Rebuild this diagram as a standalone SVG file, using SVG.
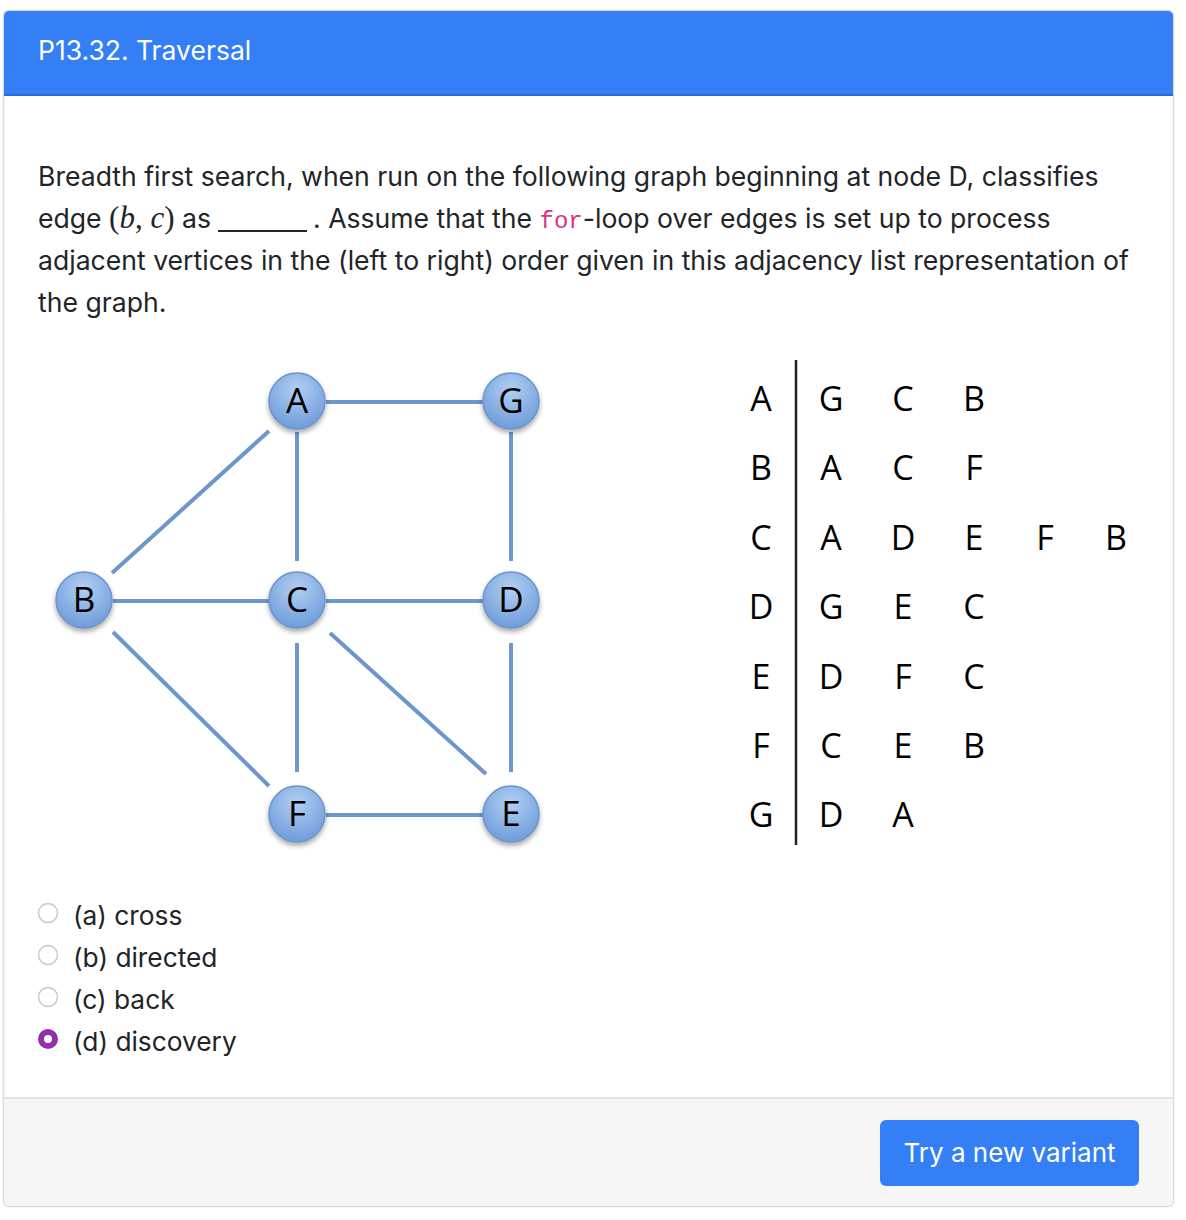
<svg xmlns="http://www.w3.org/2000/svg" width="1186" height="1220" viewBox="0 0 1186 1220">
<style>
.t{font-family:Inter,"Noto Sans","Liberation Sans",sans-serif;fill:#212529}
.body{font-size:26.6px}
.opt{font-size:26.3px}
.edge{stroke:#6d97cb;stroke-width:4;fill:none}
.nl{font-family:"Open Sans","Liberation Sans",sans-serif;font-size:35px;fill:#000;text-anchor:middle}
.adj{font-family:"Open Sans","Liberation Sans",sans-serif;font-size:34px;fill:#000;text-anchor:middle}
.radio{fill:#fff;stroke:#c9c9c9;stroke-width:1.5}
</style>
<defs>
<radialGradient id="ng" cx="0.5" cy="0.3" r="0.75">
<stop offset="0" stop-color="#b3cff2"/>
<stop offset="0.6" stop-color="#86aee3"/>
<stop offset="1" stop-color="#6a98d6"/>
</radialGradient>
<filter id="sh" x="-30%" y="-30%" width="160%" height="170%">
<feDropShadow dx="0" dy="3" stdDeviation="2.5" flood-color="#000" flood-opacity="0.35"/>
</filter>
</defs>
<rect x="0" y="0" width="1186" height="1220" fill="#fff"/>
<rect x="3.5" y="10.5" width="1170" height="1196" rx="5" fill="#fff" stroke="#dcdcdc" stroke-width="1.5"/>
<path d="M4 95 V16 a5 5 0 0 1 5 -5 H1168 a5 5 0 0 1 5 5 V95 Z" fill="#347ff6"/>
<rect x="4" y="94" width="1169" height="2" fill="#2a6bd6"/>
<text x="38" y="60" font-family="Inter,'Noto Sans','Liberation Sans',sans-serif" font-size="26.5" fill="#fff">P13.32. Traversal</text>
<path d="M4 1098 H1173 V1201 a5 5 0 0 1 -5 5 H9 a5 5 0 0 1 -5 -5 Z" fill="#f6f6f6"/>
<line x1="4" y1="1098" x2="1173" y2="1098" stroke="#dcdcdc" stroke-width="1.5"/>

<text class="t body" x="38" y="186">Breadth first search, when run on the following graph beginning at node D, classifies</text>
<text class="t body" x="38" y="228">edge <tspan font-family="'Liberation Serif',serif" font-size="31">(<tspan font-style="italic">b</tspan>, <tspan font-style="italic">c</tspan>)</tspan> as</text>
<line x1="218" y1="231" x2="307" y2="231" stroke="#212529" stroke-width="2"/>
<text class="t body" x="313" y="228">. Assume that the <tspan font-family="'Liberation Mono',monospace" font-size="24" fill="#d63384">for</tspan>-loop over edges is set up to process</text>
<text class="t body" x="38" y="270">adjacent vertices in the (left to right) order given in this adjacency list representation of</text>
<text class="t body" x="38" y="312">the graph.</text>

<g id="connectors">
<line class="edge" x1="326" y1="402" x2="484" y2="402"/>
<line class="edge" x1="297" y1="432" x2="297" y2="561"/>
<line class="edge" x1="511" y1="432" x2="511" y2="561"/>
<line class="edge" x1="269" y1="431" x2="112" y2="573"/>
<line class="edge" x1="113" y1="601" x2="270" y2="601"/>
<line class="edge" x1="326" y1="601" x2="484" y2="601"/>
<line class="edge" x1="113" y1="632" x2="269" y2="786"/>
<line class="edge" x1="297" y1="643" x2="297" y2="772"/>
<line class="edge" x1="330" y1="633" x2="486" y2="774"/>
<line class="edge" x1="511" y1="643" x2="511" y2="772"/>
<line class="edge" x1="326" y1="815" x2="484" y2="815"/>
</g>

<g id="node-A"><circle cx="297" cy="401" r="28" fill="url(#ng)" stroke="#6b95cc" stroke-width="1.5" filter="url(#sh)"/><text class="nl" x="297" y="413">A</text></g>
<g id="node-G"><circle cx="511" cy="401" r="28" fill="url(#ng)" stroke="#6b95cc" stroke-width="1.5" filter="url(#sh)"/><text class="nl" x="511" y="413">G</text></g>
<g id="node-B"><circle cx="84" cy="600" r="28" fill="url(#ng)" stroke="#6b95cc" stroke-width="1.5" filter="url(#sh)"/><text class="nl" x="84" y="612">B</text></g>
<g id="node-C"><circle cx="297" cy="600" r="28" fill="url(#ng)" stroke="#6b95cc" stroke-width="1.5" filter="url(#sh)"/><text class="nl" x="297" y="612">C</text></g>
<g id="node-D"><circle cx="511" cy="600" r="28" fill="url(#ng)" stroke="#6b95cc" stroke-width="1.5" filter="url(#sh)"/><text class="nl" x="511" y="612">D</text></g>
<g id="node-F"><circle cx="297" cy="814" r="28" fill="url(#ng)" stroke="#6b95cc" stroke-width="1.5" filter="url(#sh)"/><text class="nl" x="297" y="826">F</text></g>
<g id="node-E"><circle cx="511" cy="814" r="28" fill="url(#ng)" stroke="#6b95cc" stroke-width="1.5" filter="url(#sh)"/><text class="nl" x="511" y="826">E</text></g>

<g id="adjacency">
<line x1="796" y1="360" x2="796" y2="845" stroke="#222" stroke-width="2.5"/>
<text class="adj" y="411"><tspan x="761">A</tspan><tspan x="831">G</tspan><tspan x="903">C</tspan><tspan x="974">B</tspan></text>
<text class="adj" y="480"><tspan x="761">B</tspan><tspan x="831">A</tspan><tspan x="903">C</tspan><tspan x="974">F</tspan></text>
<text class="adj" y="550"><tspan x="761">C</tspan><tspan x="831">A</tspan><tspan x="903">D</tspan><tspan x="974">E</tspan><tspan x="1045">F</tspan><tspan x="1116">B</tspan></text>
<text class="adj" y="619"><tspan x="761">D</tspan><tspan x="831">G</tspan><tspan x="903">E</tspan><tspan x="974">C</tspan></text>
<text class="adj" y="689"><tspan x="761">E</tspan><tspan x="831">D</tspan><tspan x="903">F</tspan><tspan x="974">C</tspan></text>
<text class="adj" y="758"><tspan x="761">F</tspan><tspan x="831">C</tspan><tspan x="903">E</tspan><tspan x="974">B</tspan></text>
<text class="adj" y="827"><tspan x="761">G</tspan><tspan x="831">D</tspan><tspan x="903">A</tspan></text>
</g>

<g id="options">
<circle class="radio" cx="48" cy="913" r="9.5"/>
<text class="t opt" x="73" y="925">(a) cross</text>
<circle class="radio" cx="48" cy="955" r="9.5"/>
<text class="t opt" x="73" y="967">(b) directed</text>
<circle class="radio" cx="48" cy="997" r="9.5"/>
<text class="t opt" x="73" y="1009">(c) back</text>
<circle cx="48" cy="1039" r="10" fill="#932fa6"/>
<circle cx="48" cy="1039" r="4" fill="#fff"/>
<text class="t opt" x="73" y="1051">(d) discovery</text>
</g>

<g id="button">
<rect x="880" y="1120" width="259" height="66" rx="6" fill="#347ff6"/>
<text x="1009.5" y="1162" font-family="Inter,'Noto Sans','Liberation Sans',sans-serif" font-size="26" fill="#fff" text-anchor="middle">Try a new variant</text>
</g>
</svg>
